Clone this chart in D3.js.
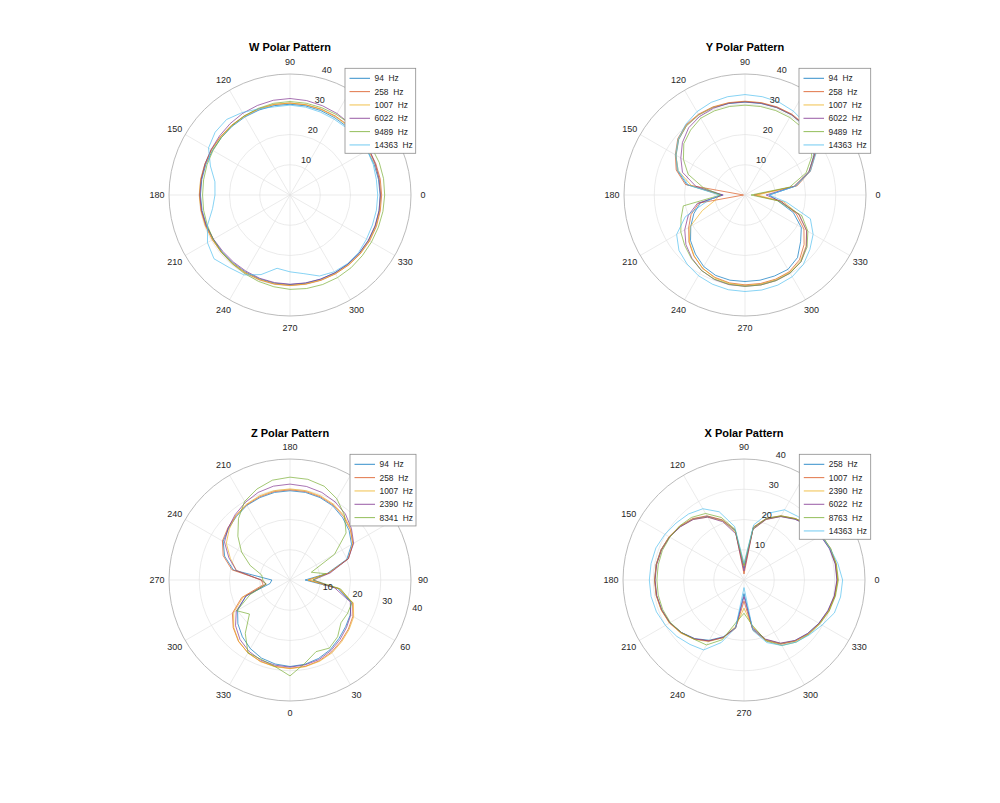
<!DOCTYPE html>
<html>
<head>
<meta charset="utf-8">
<script src="https://cdn.jsdelivr.net/npm/d3@7"></script>
<style>
body { margin: 0; background: #fff; }
svg text { font-family: "Liberation Sans", Arial, Helvetica, sans-serif; fill: #262626; }
</style>
</head>
<body>
<svg id="fig" width="1000" height="803"></svg>
<script>
// figure size
var width = 1000;
var height = 803;

// measurement angles in degrees (one sample every 10 deg)
var angles = [0,10,20,30,40,50,60,70,80,90,100,110,120,130,140,150,160,170,
              180,190,200,210,220,230,240,250,260,270,280,290,300,310,320,330,340,350];

// axis ticks
var thetaTicks = [0,30,60,90,120,150,180,210,240,270,300,330];
var rTicks = [10,20,30,40];
var rMax = 40;

// MATLAB default line colours
var colors = ["#0072BD","#D95319","#EDB120","#7E2F8E","#77AC30","#4DBEEE"];

// ---- W channel ----
var wFreqs = [94,258,1007,6022,9489,14363];
var w94    = [29.8,29.7,29.6,29.5,29.4,29.4,29.5,29.7,29.9,30.0,30.0,29.9,29.8,29.7,29.6,29.6,29.6,29.6,29.6,29.5,29.4,29.3,29.3,29.3,29.4,29.5,29.6,29.6,29.6,29.6,29.7,29.8,29.9,30.0,30.0,29.9];
var w258   = [30.3,30.3,30.2,30.1,30.0,30.0,30.1,30.2,30.3,30.4,30.4,30.3,30.2,30.1,30.0,30.0,29.9,29.9,29.9,29.8,29.7,29.6,29.6,29.6,29.7,29.8,29.9,29.9,29.9,30.0,30.1,30.2,30.3,30.4,30.4,30.3];
var w1007  = [30.0,30.0,29.9,29.8,29.8,29.8,29.9,30.1,30.3,30.4,30.4,30.3,30.1,30.0,29.9,29.9,29.9,30.0,30.0,29.9,29.8,29.6,29.5,29.5,29.6,29.7,29.8,29.9,29.9,29.9,30.0,30.1,30.2,30.2,30.2,30.1];
var w6022  = [29.9,29.9,30.0,30.2,30.5,30.8,31.1,31.4,31.7,31.9,31.8,31.5,31.2,30.8,30.4,30.1,29.9,29.8,29.8,29.7,29.5,29.2,29.0,29.0,29.1,29.3,29.4,29.5,29.5,29.6,29.7,29.8,29.9,29.9,29.9,29.9];
var w9489  = [31.3,31.4,31.4,31.2,31.0,30.8,30.7,30.7,30.8,30.9,30.8,30.5,30.2,29.9,29.6,29.4,29.2,29.0,28.9,29.0,29.1,29.3,29.5,29.7,30.0,30.4,30.8,31.2,31.4,31.5,31.5,31.4,31.2,31.1,31.1,31.2];
var w14363 = [29.0,29.0,29.3,29.5,29.2,29.0,29.0,29.2,29.5,29.7,29.6,30.3,31.5,32.6,32.3,31.1,28.0,25.2,24.8,26.0,29.0,31.5,32.8,31.3,30.5,28.0,24.6,25.4,26.4,28.5,29.3,29.6,29.6,29.2,29.0,29.0];

// ---- Y channel ----
var yFreqs = [94,258,1007,6022,9489,14363];
var y94    = [8,17,22.5,26.3,29,30.2,30.6,30.7,30.7,30.7,30.7,30.8,30.6,30,28.6,26.3,23.8,19.5,7.5,15,18,20.7,23.5,25.5,27.3,28.3,28.6,28.6,28.6,28.5,28.4,27,24,21.5,17,11];
var y258   = [3,17.5,23,26.8,29.4,30.5,30.9,31,31,31,31,31,30.8,30.3,29,26.6,24.2,20,0.5,15.5,19,21.5,24.2,26.3,28,29,29.5,29.7,29.7,29.6,29.3,28,25.5,22.5,18,12];
var y1007  = [4,16.5,22.5,26.5,29.2,30.3,30.7,30.8,30.9,30.9,30.9,30.8,30.6,30,28.7,26.4,23.5,18,8.3,10,15,21,24,26.2,28,29.2,29.7,29.9,29.9,29.8,29.5,28.5,26.3,23.5,19,13];
var y6022  = [7,16.5,22.5,26.5,29.2,30.3,30.7,30.8,30.8,30.8,30.8,30.5,30,29,27,24.5,22,16.5,7.2,16,20,23,25.5,27.3,28.8,29.7,30.1,30.2,30.2,30.1,29.8,28.8,26.5,23.5,19,12];
var y9489  = [2,15,21.5,25.5,28,29.2,29.6,29.7,29.7,29.7,29.7,29.6,29.3,28,26.4,23.5,20,14,8,20.7,22.5,24.5,26,27.5,28.8,29.6,30,30.2,30.2,30.1,29.8,28.8,26.8,24,20,11];
var y14363 = [8,17,23,27,29.5,31,32,32.7,33,33.2,33,32.6,31.8,30.5,28.8,26.5,23.5,19,8.5,13,21,26.1,28.5,29.8,30.8,31.4,31.8,31.9,31.9,31.7,31.2,30,28,26,23,14];

// ---- Z channel (0 deg at bottom) ----
var zFreqs = [94,258,1007,2390,8341];
var z94    = [28.6,28.3,27.6,26.6,25.2,24,23,21.5,16,5,12.5,20,23.5,25.5,27,28.3,29,29.4,29.5,29.4,29,28.5,27.5,26.5,25.5,23,19,6,6.7,15.5,20,22.5,24.5,26.2,27.5,28.2];
var z258   = [29.2,29,28.4,27.5,26.3,25.2,24,22,16.5,6,13,20.5,24,26,27.5,28.6,29.3,29.7,29.8,29.7,29.3,28.7,27.8,26.8,25.8,23.5,19.5,9.5,9,17,22,24.5,26.5,27.8,28.6,29];
var z1007  = [29.3,29.1,28.6,27.8,26.6,25.5,24.3,22.3,16.5,6,13,20.5,24,26.2,27.8,28.9,29.6,30,30.1,30,29.6,28.9,27.8,26.2,24.3,21,18,9.5,8,16.5,21.5,24.3,26.4,27.8,28.7,29.1];
var z2390  = [28.8,28.5,28,27,25.7,24.4,23.2,21.2,15,7.7,13.5,20.5,24.3,26.5,28.5,29.8,30.8,31.4,31.7,31.5,30.8,29.6,28.2,26.7,25,21.5,18,9.5,8,15.5,20.5,23.5,25.7,27.2,28.2,28.6];
var z8341  = [31.7,28,25.2,26,24.5,22,22,21.8,17,7.5,12,7.5,17,24.2,28,31,33,33.8,34,33.5,32,30,26.5,22.5,18.5,14,9.5,9,8,14,20.3,17.5,23,27.8,27.9,29];

// ---- X channel ----
var xFreqs = [258,1007,2390,6022,8763,14363];
var x258   = [30.8,30.7,30.2,29.3,28,26.3,24.3,21.5,17.5,4,16.5,21,24.3,26.3,27.5,28.5,29.2,29.5,29.5,29.4,29,28.3,27,25.3,23,20,16,4.5,16.5,21,24.3,26.2,27.5,28.6,29.6,30.4];
var x1007  = [30.9,30.8,30.4,29.5,28.2,26.5,24.5,21.7,17.8,2,16.8,21.2,24.5,26.5,27.7,28.6,29.2,29.5,29.6,29.5,29.1,28.4,27.2,25.5,23.2,20.3,16.3,7,16.8,21.3,24.5,26.4,27.8,28.8,29.8,30.5];
var x2390  = [31,30.9,30.4,29.5,28.2,26.4,24.3,21.3,17,4.5,16,20.8,24,26.2,27.5,28.5,29.1,29.4,29.5,29.4,29.1,28.5,27.3,25.6,23.5,20.3,15.5,9.3,15.5,21,24.2,26.3,27.7,28.8,29.8,30.5];
var x6022  = [30.7,30.6,30.1,29.2,27.9,26.2,24.2,21.3,17,3,15.5,20.5,24,26.1,27.4,28.4,29,29.3,29.4,29.3,28.9,28.3,27,25.4,23.3,20.2,16,5.5,16,20.8,24.1,26.1,27.5,28.6,29.5,30.3];
var x8763  = [31.2,31,30.5,29.6,28.3,26.5,24.5,21.7,17.5,5,17,22,25.4,27,27.8,28.3,28.7,28.8,28.8,28.8,28.6,28.1,27,25.6,24.8,21,14,11,15,21.5,25,26.8,28,29,30,30.7];
var x14363 = [32.6,31.5,30.3,29.5,28.6,27.5,26.8,23.5,18.5,5.5,18,24,27.2,28.5,29.3,30.2,31,31.2,31.3,31.2,30.8,30,29,27.8,26.7,22,16,2.5,17,22,25,26.8,28.2,29.8,31.8,32.4];

var R = 121;   // outer ring radius in px

var svg = d3.select("#fig");
svg.append("rect").attr("width", width).attr("height", height).attr("fill", "#fff");

// one polar axes
function drawPanel(p) {
    var g = svg.append("g").attr("transform", `translate(${p.cx},${p.cy})`);
    var r = d3.scaleLinear().domain([0, rMax]).range([0, R]);
    // d3 radial angle: 0 = up, clockwise. p.offset is where theta=0 sits.
    var toAng = function(deg) { return p.offset - deg * Math.PI / 180; };
    var step = 13.33;
    var lh = p.freqs.length * step + 5;

    // grid
    g.selectAll(".spoke").data(thetaTicks).enter().append("line")
        .attr("x1", 0).attr("y1", 0)
        .attr("x2", function(d) { return r(rMax) * Math.sin(toAng(d)); })
        .attr("y2", function(d) { return -r(rMax) * Math.cos(toAng(d)); })
        .attr("stroke", "#e2e2e2").attr("stroke-width", 0.7);
    g.selectAll(".ring").data(rTicks).enter().append("circle")
        .attr("r", function(d) { return r(d); })
        .attr("fill", "none")
        .attr("stroke", function(d) { return d === rMax ? "#b3b3b3" : "#e2e2e2"; })
        .attr("stroke-width", function(d) { return d === rMax ? 0.9 : 0.7; });

    // traces
    var line = d3.lineRadial()
        .angle(function(d, i) { return toAng(angles[i]); })
        .radius(function(d) { return r(d); })
        .curve(d3.curveLinearClosed);
    g.selectAll(".trace").data(p.series).enter().append("path")
        .attr("d", line)
        .attr("fill", "none")
        .attr("stroke", function(d, i) { return colors[i]; })
        .attr("stroke-width", 0.8)
        .attr("stroke-opacity", 0.85);

    // theta tick labels (the ones under the legend box are hidden)
    var tpos = function(d) {
        return [(R + 12) * Math.sin(toAng(d)), -(R + 12) * Math.cos(toAng(d))];
    };
    var shown = thetaTicks.filter(function(d) {
        var q = tpos(d), ax = p.cx + q[0], ay = p.cy + q[1];
        return !(ax > p.lx - 8 && ax < p.lx + p.lw + 8 && ay > p.ly - 5 && ay < p.ly + lh + 5);
    });
    g.selectAll(".tlab").data(shown).enter().append("text")
        .attr("x", function(d) { return tpos(d)[0]; })
        .attr("y", function(d) { return tpos(d)[1]; })
        .attr("text-anchor", "middle")
        .attr("dominant-baseline", "central")
        .attr("font-size", "9px")
        .text(function(d) { return d; });

    // r tick labels along theta = 80
    var a80 = toAng(80);
    g.selectAll(".rlab").data(rTicks).enter().append("text")
        .attr("x", function(d) {
            var bx = r(d) * Math.sin(a80);
            return p.offset > 2 ? bx + 8 : bx + 4 + 0.055 * r(d);
        })
        .attr("y", function(d) {
            var by = -r(d) * Math.cos(a80);
            return p.offset > 2 ? by + 0.06 * r(d) - 0.5 : by - 5.5;
        })
        .attr("text-anchor", p.offset > 2 ? "middle" : "start")
        .attr("dominant-baseline", "central")
        .attr("font-size", "9px")
        .text(function(d) { return d; });

    // title
    svg.append("text")
        .attr("x", p.cx).attr("y", p.titleY)
        .attr("text-anchor", "middle")
        .attr("font-size", "11px").attr("font-weight", "bold")
        .style("fill", "#000")
        .text(p.title);

    // legend
    var lg = svg.append("g").attr("transform", `translate(${p.lx},${p.ly})`);
    lg.append("rect")
        .attr("width", p.lw).attr("height", lh)
        .attr("fill", "#fff").attr("stroke", "#8c8c8c").attr("stroke-width", 0.8);
    var rows = lg.selectAll(".row").data(p.freqs).enter().append("g")
        .attr("transform", function(d, i) { return `translate(0,${10 + i * step})`; });
    rows.append("line")
        .attr("x1", 4.5).attr("x2", 25)
        .attr("stroke", function(d, i) { return colors[i]; })
        .attr("stroke-width", 0.8);
    rows.append("text")
        .attr("x", 29.5)
        .attr("dominant-baseline", "central")
        .attr("font-size", "8.4px")
        .text(function(d) { return d + "\u00a0 Hz"; });
}

var panels = [
    { title: "W Polar Pattern", cx: 290, cy: 195, titleY: 51, offset: Math.PI / 2,
      series: [w94, w258, w1007, w6022, w9489, w14363], freqs: wFreqs,
      lx: 345, ly: 68.3, lw: 70.7 },
    { title: "Y Polar Pattern", cx: 745, cy: 195, titleY: 51, offset: Math.PI / 2,
      series: [y94, y258, y1007, y6022, y9489, y14363], freqs: yFreqs,
      lx: 799, ly: 68.3, lw: 71.7 },
    { title: "Z Polar Pattern", cx: 290, cy: 580, titleY: 436.5, offset: Math.PI,
      series: [z94, z258, z1007, z2390, z8341], freqs: zFreqs,
      lx: 350, ly: 454.3, lw: 66 },
    { title: "X Polar Pattern", cx: 744, cy: 580, titleY: 436.5, offset: Math.PI / 2,
      series: [x258, x1007, x2390, x6022, x8763, x14363], freqs: xFreqs,
      lx: 799.3, ly: 454.3, lw: 71.4 }
];

panels.forEach(drawPanel);
</script>
</body>
</html>
